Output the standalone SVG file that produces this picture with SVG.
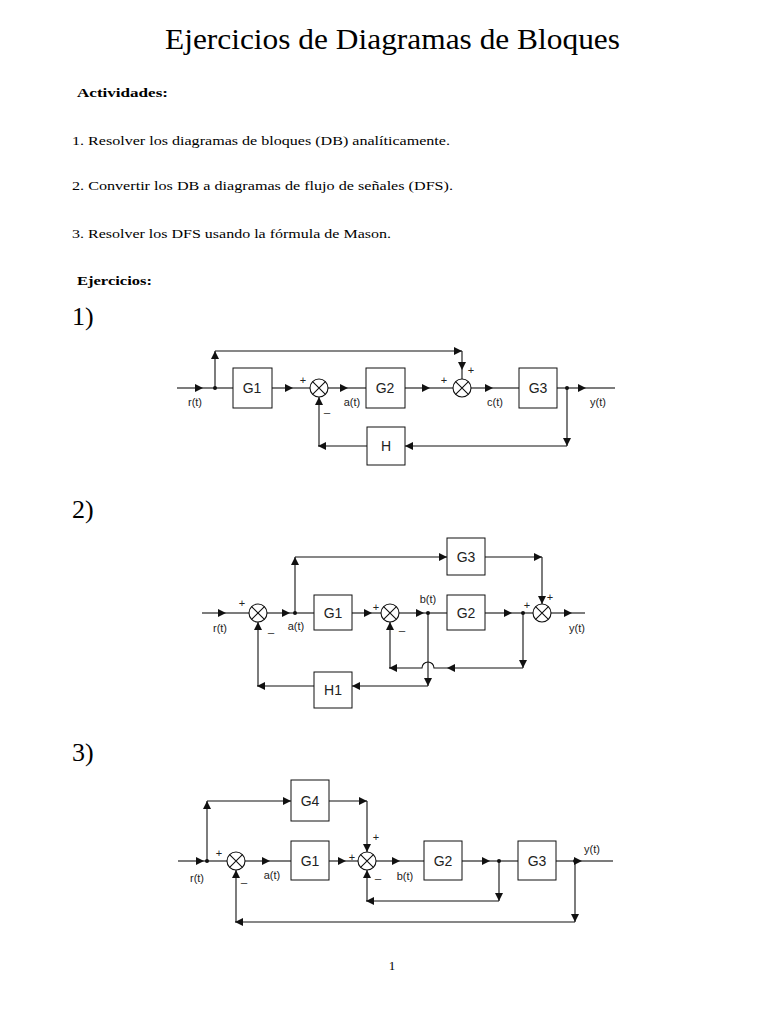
<svg xmlns="http://www.w3.org/2000/svg" width="768" height="1024" viewBox="0 0 768 1024">
<style>
.t{font-family:"Liberation Serif",serif;fill:#000}
.s{font-family:"Liberation Sans",Arial,sans-serif;fill:#222;font-size:11px}
.b{font-family:"Liberation Sans",Arial,sans-serif;fill:#222;font-size:14px}
.box{fill:#fff;stroke:#111;stroke-width:1}
.w{fill:none;stroke:#111;stroke-width:1.1}
.sum{fill:#fff;stroke:#111;stroke-width:1.1}
</style>
<defs>
<marker id="a" viewBox="0 0 10 10" refX="10" refY="5" markerWidth="8" markerHeight="8" markerUnits="userSpaceOnUse" orient="auto"><path d="M0,0L10,5L0,10z" fill="#111"/></marker>
<g id="x"><circle r="9" class="sum"/><path d="M-6.4,-6.4L6.4,6.4M-6.4,6.4L6.4,-6.4" stroke="#111" stroke-width="1.1"/></g>
</defs>
<rect width="768" height="1024" fill="#fff"/>
<text class="t" x="165" y="49" font-size="29" textLength="455" lengthAdjust="spacingAndGlyphs">Ejercicios de Diagramas de Bloques</text>
<text class="t" x="77" y="97" font-size="13" font-weight="bold" textLength="91" lengthAdjust="spacingAndGlyphs">Actividades:</text>
<text class="t" x="72" y="145" font-size="13" textLength="378" lengthAdjust="spacingAndGlyphs">1.  Resolver los diagramas de bloques (DB) analíticamente.</text>
<text class="t" x="72" y="190" font-size="13" textLength="381" lengthAdjust="spacingAndGlyphs">2.  Convertir los DB a diagramas de flujo de señales (DFS).</text>
<text class="t" x="72" y="238" font-size="13" textLength="319" lengthAdjust="spacingAndGlyphs">3.  Resolver los DFS usando la fórmula de Mason.</text>
<text class="t" x="77" y="285" font-size="13" font-weight="bold" textLength="75" lengthAdjust="spacingAndGlyphs">Ejercicios:</text>
<text class="t" x="72" y="325" font-size="26">1)</text>
<text class="t" x="72" y="518" font-size="26">2)</text>
<text class="t" x="72" y="761" font-size="26">3)</text>
<text class="t" x="392" y="970" font-size="13" text-anchor="middle">1</text>

<g id="connectors">
<path class="w" d="M177,388H203" marker-end="url(#a)"/><path class="w" d="M203,388H233"/>
<path class="w" d="M215,388V351" marker-end="url(#a)" stroke-width="1.6"/>
<path class="w" d="M215,351H462" marker-end="url(#a)" stroke-width="1.6"/>
<path class="w" d="M462,351V370" marker-end="url(#a)"/><path class="w" d="M462,370V379"/>
<path class="w" d="M272,388H293" marker-end="url(#a)"/><path class="w" d="M293,388H310"/>
<path class="w" d="M328,388H348" marker-end="url(#a)"/><path class="w" d="M348,388H366"/>
<path class="w" d="M405,388H430" marker-end="url(#a)"/><path class="w" d="M430,388H453"/>
<path class="w" d="M471,388H493" marker-end="url(#a)"/><path class="w" d="M493,388H519"/>
<path class="w" d="M557,388H586" marker-end="url(#a)"/><path class="w" d="M586,388H615"/>
<path class="w" d="M567,388V446" marker-end="url(#a)"/>
<path class="w" d="M567,446H405" marker-end="url(#a)"/>
<path class="w" d="M367,446H318" marker-end="url(#a)"/>
<path class="w" d="M319,446V397" marker-end="url(#a)"/>
<circle cx="215" cy="388" r="2" fill="#111"/><circle cx="567" cy="388" r="2" fill="#111"/>
<path class="w" d="M202,613H226" marker-end="url(#a)"/><path class="w" d="M226,613H249"/>
<path class="w" d="M267,613H290" marker-end="url(#a)"/><path class="w" d="M290,613H314"/>
<path class="w" d="M295,613V557" marker-end="url(#a)" stroke-width="1.6"/>
<path class="w" d="M295,557H447" marker-end="url(#a)"/>
<path class="w" d="M485,557H542" marker-end="url(#a)"/>
<path class="w" d="M542,557V604" marker-end="url(#a)"/>
<path class="w" d="M352,613H372" marker-end="url(#a)"/><path class="w" d="M372,613H381"/>
<path class="w" d="M399,613H424" marker-end="url(#a)"/><path class="w" d="M424,613H447"/>
<path class="w" d="M485,613H512" marker-end="url(#a)"/><path class="w" d="M512,613H533"/>
<path class="w" d="M551,613H572" marker-end="url(#a)"/><path class="w" d="M572,613H585"/>
<path class="w" d="M523,613V668" marker-end="url(#a)"/>
<path class="w" d="M523,668H447" marker-end="url(#a)"/>
<path class="w" d="M447,668H434A6,6 0 0 0 422,668H389" marker-end="url(#a)"/>
<path class="w" d="M390,668V622" marker-end="url(#a)"/>
<path class="w" d="M428,613V686" marker-end="url(#a)" stroke-width="1.6"/>
<path class="w" d="M428,686H352" marker-end="url(#a)"/>
<path class="w" d="M314,686H257" marker-end="url(#a)"/>
<path class="w" d="M258,686V622" marker-end="url(#a)"/>
<circle cx="295" cy="613" r="2" fill="#111"/><circle cx="428" cy="613" r="2" fill="#111"/><circle cx="523" cy="613" r="2" fill="#111"/>
<path class="w" d="M178,861H204" marker-end="url(#a)"/><path class="w" d="M204,861H227"/>
<path class="w" d="M207,861V801" marker-end="url(#a)"/>
<path class="w" d="M207,801H291" marker-end="url(#a)"/>
<path class="w" d="M329,801H367" marker-end="url(#a)"/>
<path class="w" d="M367,801V852" marker-end="url(#a)"/>
<path class="w" d="M245,861H270" marker-end="url(#a)"/><path class="w" d="M270,861H291"/>
<path class="w" d="M329,861H346" marker-end="url(#a)"/><path class="w" d="M346,861H358"/>
<path class="w" d="M376,861H400" marker-end="url(#a)"/><path class="w" d="M400,861H424"/>
<path class="w" d="M462,861H490" marker-end="url(#a)"/><path class="w" d="M490,861H518"/>
<path class="w" d="M556,861H582" marker-end="url(#a)"/><path class="w" d="M582,861H613"/>
<path class="w" d="M499,861V901" marker-end="url(#a)"/>
<path class="w" d="M499,901H366" marker-end="url(#a)"/>
<path class="w" d="M367,901V870" marker-end="url(#a)"/>
<path class="w" d="M575,861V922" marker-end="url(#a)"/>
<path class="w" d="M575,922H235" marker-end="url(#a)"/>
<path class="w" d="M236,922V870" marker-end="url(#a)"/>
<circle cx="207" cy="861" r="2" fill="#111"/><circle cx="499" cy="861" r="2" fill="#111"/><circle cx="575" cy="861" r="2" fill="#111"/>
</g>

<g id="d1">
<g id="d1G1"><rect class="box" x="233" y="368" width="39" height="40" stroke-width="1.6"/><text class="b" x="252" y="393" text-anchor="middle">G1</text></g>
<g id="d1G2"><rect class="box" x="366" y="368" width="39" height="40"/><text class="b" x="385" y="393" text-anchor="middle">G2</text></g>
<g id="d1G3"><rect class="box" x="519" y="368" width="38" height="40"/><text class="b" x="538" y="393" text-anchor="middle">G3</text></g>
<g id="d1H"><rect class="box" x="367" y="427" width="38" height="38"/><text class="b" x="386" y="451" text-anchor="middle">H</text></g>
<g id="d1S1"><use href="#x" x="319" y="388"/></g>
<g id="d1S2"><use href="#x" x="462" y="388"/></g>
<text class="s" x="195" y="406" text-anchor="middle">r(t)</text>
<text class="s" x="352" y="406" text-anchor="middle">a(t)</text>
<text class="s" x="495" y="406" text-anchor="middle">c(t)</text>
<text class="s" x="598" y="406" text-anchor="middle">y(t)</text>
<text class="s" x="303" y="384" text-anchor="middle">+</text>
<text class="s" x="327" y="412" text-anchor="middle">_</text>
<text class="s" x="444" y="384" text-anchor="middle">+</text>
<text class="s" x="471" y="374" text-anchor="middle">+</text>
</g>

<g id="d2">
<g id="d2G1"><rect class="box" x="314" y="595" width="38" height="35"/><text class="b" x="333" y="618" text-anchor="middle">G1</text></g>
<g id="d2G2"><rect class="box" x="447" y="595" width="38" height="35"/><text class="b" x="466" y="618" text-anchor="middle">G2</text></g>
<g id="d2G3"><rect class="box" x="447" y="538" width="38" height="37"/><text class="b" x="466" y="562" text-anchor="middle">G3</text></g>
<g id="d2H1"><rect class="box" x="314" y="672" width="38" height="36"/><text class="b" x="333" y="695" text-anchor="middle">H1</text></g>
<g id="d2S1"><use href="#x" x="258" y="613"/></g>
<g id="d2S2"><use href="#x" x="390" y="613"/></g>
<g id="d2S3"><use href="#x" x="542" y="613"/></g>
<text class="s" x="220" y="632" text-anchor="middle">r(t)</text>
<text class="s" x="296" y="630" text-anchor="middle">a(t)</text>
<text class="s" x="428" y="603" text-anchor="middle">b(t)</text>
<text class="s" x="577" y="632" text-anchor="middle">y(t)</text>
<text class="s" x="242" y="607" text-anchor="middle">+</text>
<text class="s" x="271" y="632" text-anchor="middle">_</text>
<text class="s" x="376" y="611" text-anchor="middle">+</text>
<text class="s" x="402" y="630" text-anchor="middle">_</text>
<text class="s" x="527" y="609" text-anchor="middle">+</text>
<text class="s" x="550" y="601" text-anchor="middle">+</text>
</g>

<g id="d3">
<g id="d3G1"><rect class="box" x="291" y="841" width="38" height="39"/><text class="b" x="310" y="866" text-anchor="middle">G1</text></g>
<g id="d3G2"><rect class="box" x="424" y="841" width="38" height="39"/><text class="b" x="443" y="866" text-anchor="middle">G2</text></g>
<g id="d3G3"><rect class="box" x="518" y="841" width="38" height="39"/><text class="b" x="537" y="866" text-anchor="middle">G3</text></g>
<g id="d3G4"><rect class="box" x="291" y="780" width="38" height="41"/><text class="b" x="310" y="806" text-anchor="middle">G4</text></g>
<g id="d3S1"><use href="#x" x="236" y="861"/></g>
<g id="d3S2"><use href="#x" x="367" y="861"/></g>
<text class="s" x="197" y="882" text-anchor="middle">r(t)</text>
<text class="s" x="272" y="879" text-anchor="middle">a(t)</text>
<text class="s" x="405" y="880" text-anchor="middle">b(t)</text>
<text class="s" x="592" y="853" text-anchor="middle">y(t)</text>
<text class="s" x="219" y="857" text-anchor="middle">+</text>
<text class="s" x="244" y="882" text-anchor="middle">_</text>
<text class="s" x="352" y="861" text-anchor="middle">+</text>
<text class="s" x="376" y="841" text-anchor="middle">+</text>
<text class="s" x="378" y="878" text-anchor="middle">_</text>
</g>
</svg>
